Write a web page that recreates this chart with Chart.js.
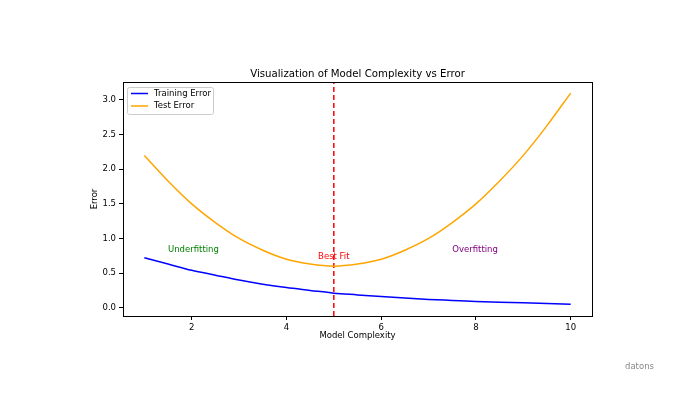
<!DOCTYPE html>
<html lang="en">
<head>
    <meta charset="UTF-8">
    <title>Model Complexity vs Error</title>
    <script src="https://cdn.jsdelivr.net/npm/chart.js"></script>
    <style>
        html, body { margin: 0; padding: 0; background: #fff; }
        #wrap { width: 700px; height: 394px; }
    </style>
</head>
<body>
    <div id="wrap"><canvas id="myChart" width="700" height="394"></canvas></div>
    <script>
        // values
        const complexity = [1, 1.5, 2, 2.5, 3, 3.5, 4, 4.5, 5, 5.5, 6, 6.5, 7, 7.5, 8, 8.5, 9, 9.5, 10];
        const trainingError = [0.72, 0.63, 0.54, 0.47, 0.40, 0.34, 0.29, 0.25, 0.21, 0.185, 0.16, 0.14, 0.12, 0.105, 0.09, 0.08, 0.07, 0.06, 0.05];
        const testError = [2.2, 1.83, 1.5, 1.23, 1.0, 0.83, 0.7, 0.63, 0.6, 0.63, 0.7, 0.83, 1.0, 1.23, 1.5, 1.83, 2.2, 2.63, 3.1];
        const xTicks = [2, 4, 6, 8, 10];
        const yTicks = [0, 0.5, 1.0, 1.5, 2.0, 2.5, 3.0];
        const bestFitX = 5;
        const notes = [
            { text: 'Underfitting', x: 1.5, y: 0.8, color: '#008000', align: 'left' },
            { text: 'Best Fit', x: 5, y: 0.7, color: '#ff0000', align: 'center' },
            { text: 'Overfitting', x: 7.5, y: 0.8, color: '#800080', align: 'left' }
        ];

        const xMin = 0.55, xMax = 10.45, yMin = -0.12, yMax = 3.26;
        const FONT = '"DejaVu Sans", sans-serif';
        const FS = 8.5;

        const pts = (ys) => complexity.map((x, i) => ({ x: x, y: ys[i] }));

        const extras = {
            id: 'extras',
            afterDatasetsDraw(chart) {
                const ctx = chart.ctx;
                const a = chart.chartArea;
                const xs = chart.scales.x, ys = chart.scales.y;
                ctx.save();

                // frame
                ctx.strokeStyle = '#000';
                ctx.lineWidth = 1;
                ctx.strokeRect(Math.round(a.left) + 0.5, Math.round(a.top) + 0.5,
                    Math.round(a.right - a.left), Math.round(a.bottom - a.top));

                // annotations
                ctx.font = FS + 'px ' + FONT;
                ctx.textBaseline = 'alphabetic';
                notes.forEach(n => {
                    ctx.fillStyle = n.color;
                    ctx.textAlign = n.align;
                    ctx.fillText(n.text, xs.getPixelForValue(n.x), ys.getPixelForValue(n.y));
                });

                // legend
                const lx = a.left + 4, ly = a.top + 5;
                ctx.fillStyle = 'rgba(255,255,255,0.8)';
                ctx.strokeStyle = '#cccccc';
                ctx.beginPath();
                ctx.roundRect(lx + 0.5, ly + 0.5, 86, 27, 2);
                ctx.fill();
                ctx.stroke();
                chart.data.datasets.slice(0, 2).forEach((ds, i) => {
                    const y = ly + 6.5 + i * 12.5;
                    ctx.strokeStyle = ds.borderColor;
                    ctx.lineWidth = 1.5;
                    ctx.beginPath();
                    ctx.moveTo(lx + 4, y);
                    ctx.lineTo(lx + 21, y);
                    ctx.stroke();
                    ctx.fillStyle = '#000';
                    ctx.textAlign = 'left';
                    ctx.textBaseline = 'middle';
                    ctx.fillText(ds.label, lx + 27, y);
                });

                // title, axis titles, watermark
                ctx.fillStyle = '#000';
                ctx.textAlign = 'center';
                ctx.textBaseline = 'middle';
                ctx.font = '10.2px ' + FONT;
                ctx.fillText('Visualization of Model Complexity vs Error', (a.left + a.right) / 2, 74);
                ctx.font = FS + 'px ' + FONT;
                ctx.fillText('Model Complexity', (a.left + a.right) / 2, 336);
                ctx.save();
                ctx.translate(95, (a.top + a.bottom) / 2);
                ctx.rotate(-Math.PI / 2);
                ctx.fillText('Error', 0, 0);
                ctx.restore();
                ctx.fillStyle = '#888';
                ctx.font = FS + 'px ' + FONT;
                ctx.textAlign = 'left';
                ctx.fillText('datons', 625, 367);
                ctx.restore();
            }
        };

        const ctx = document.getElementById('myChart').getContext('2d');
        new Chart(ctx, {
            type: 'line',
            data: {
                datasets: [{
                    label: 'Training Error',
                    data: pts(trainingError),
                    borderColor: '#0000ff',
                    borderWidth: 1.5,
                    pointRadius: 0,
                    cubicInterpolationMode: 'monotone'
                }, {
                    label: 'Test Error',
                    data: pts(testError),
                    borderColor: '#ffa500',
                    borderWidth: 1.5,
                    pointRadius: 0,
                    cubicInterpolationMode: 'monotone'
                }, {
                    label: 'Best Fit',
                    data: [{ x: bestFitX, y: yMin }, { x: bestFitX, y: yMax }],
                    borderColor: '#ff0000',
                    borderWidth: 1.5,
                    borderDash: [5, 3],
                    pointRadius: 0
                }]
            },
            options: {
                responsive: false,
                animation: false,
                layout: { padding: { left: 73, right: 108, top: 82, bottom: 38 } },
                plugins: {
                    legend: { display: false },
                    title: { display: false },
                    tooltip: { enabled: false }
                },
                scales: {
                    x: {
                        type: 'linear',
                        min: xMin,
                        max: xMax,
                        afterBuildTicks: (s) => { s.ticks = xTicks.map(v => ({ value: v })); },
                        afterFit: (s) => { s.height = 40; },
                        grid: { drawOnChartArea: false, tickLength: 4, color: '#000' },
                        border: { display: false },
                        ticks: { color: '#000', font: { family: FONT, size: FS }, padding: 3, maxRotation: 0 }
                    },
                    y: {
                        type: 'linear',
                        min: yMin,
                        max: yMax,
                        afterBuildTicks: (s) => { s.ticks = yTicks.map(v => ({ value: v })); },
                        afterFit: (s) => { s.width = 50; },
                        grid: { drawOnChartArea: false, tickLength: 4, color: '#000' },
                        border: { display: false },
                        ticks: {
                            color: '#000', font: { family: FONT, size: FS }, padding: 3,
                            callback: (v) => Number(v).toFixed(1)
                        }
                    }
                }
            },
            plugins: [extras]
        });
    </script>
</body>
</html>
